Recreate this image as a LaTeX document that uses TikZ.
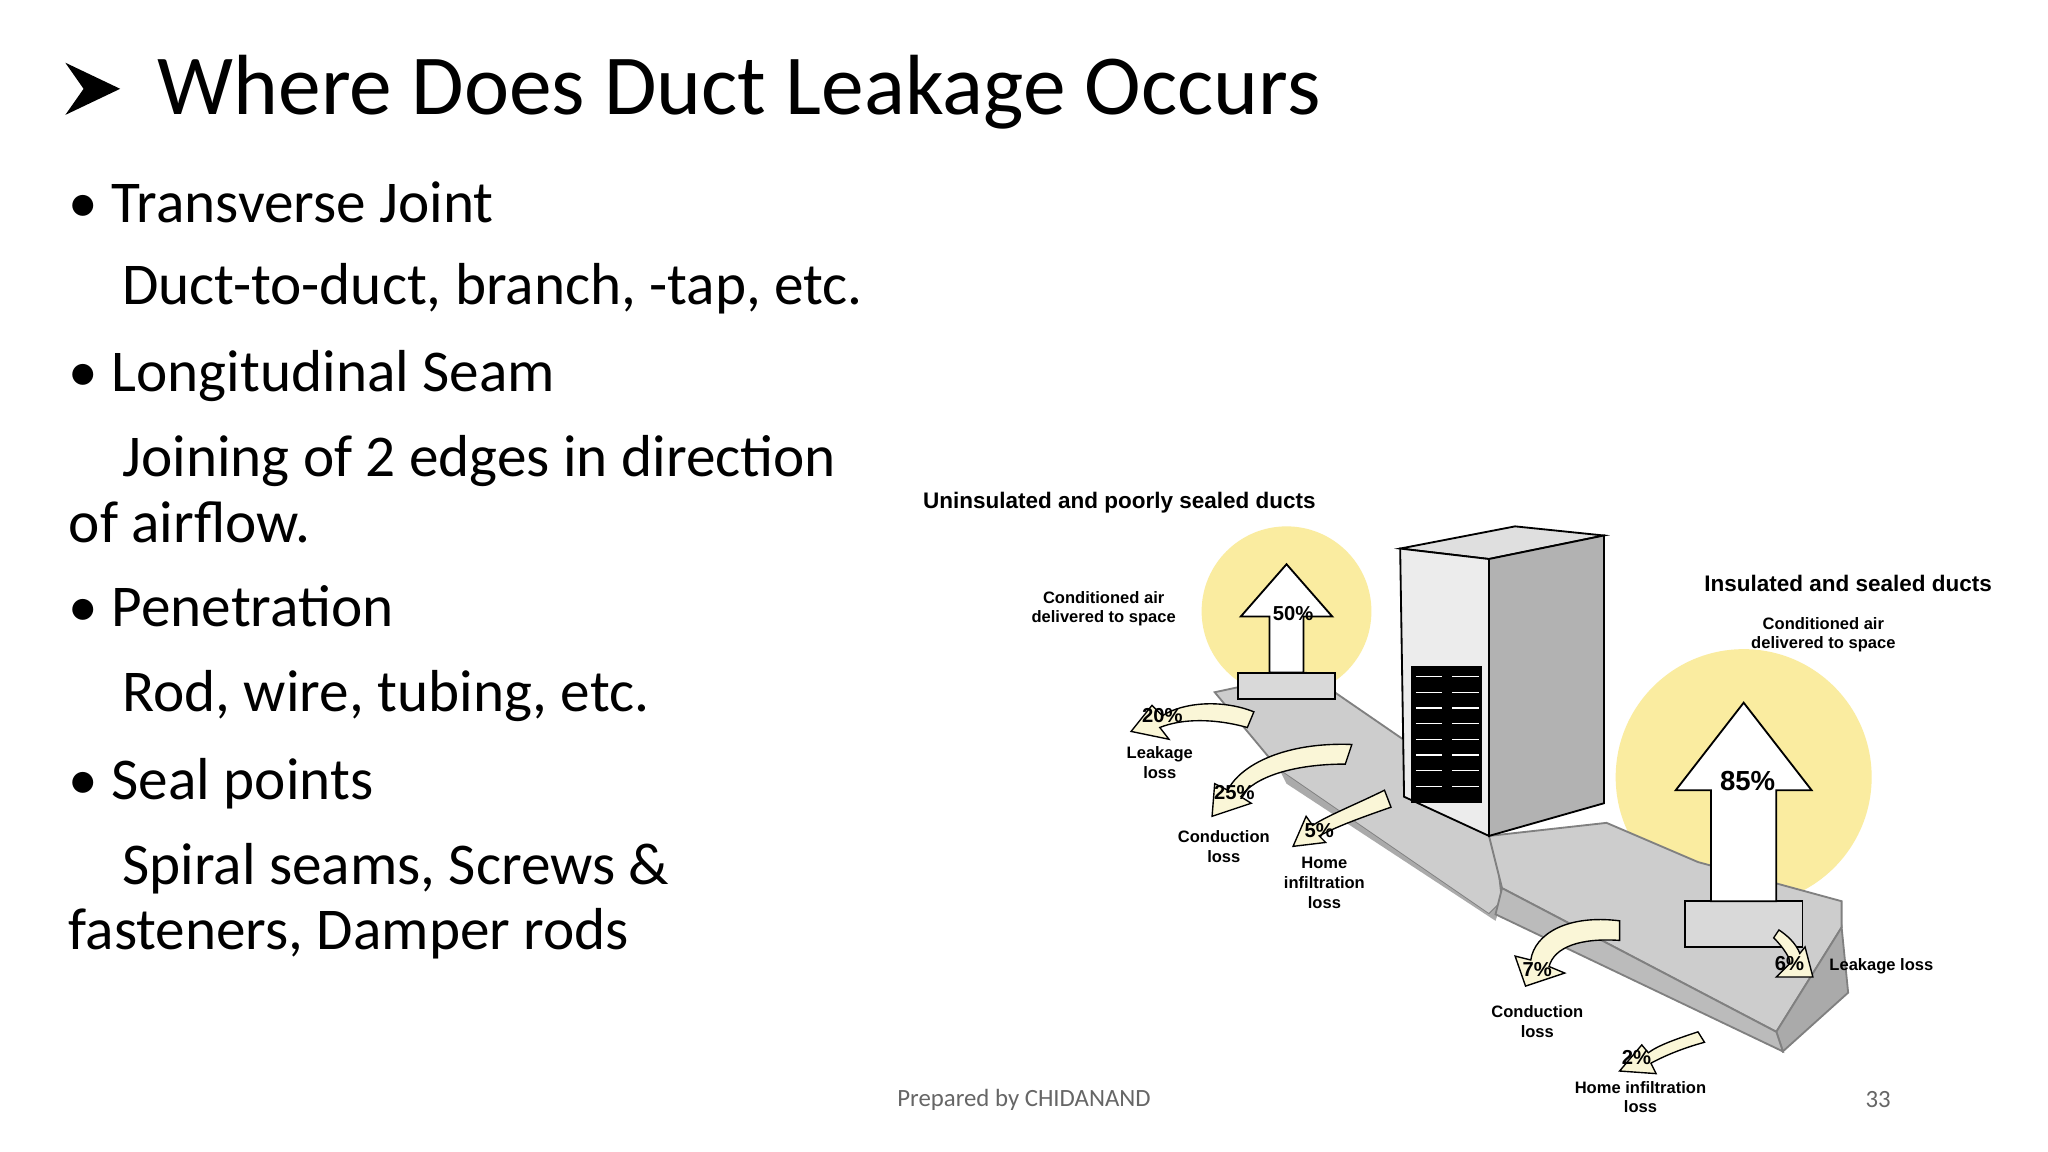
\documentclass[tikz,border=0pt]{standalone}
\usepackage{fontspec}
\setmainfont{Carlito}
\newfontfamily\lab{Liberation Sans}
\usetikzlibrary{arrows.meta}
\definecolor{halo}{RGB}{250,236,160}
\definecolor{pale}{RGB}{250,246,215}
\definecolor{ductA}{RGB}{205,205,205}
\definecolor{ductB}{RGB}{170,170,170}
\tikzset{
 body/.style={anchor=base west,font=\fontsize{12.9}{15}\selectfont,inner sep=0},
 lbl/.style={font=\lab\bfseries\fontsize{3.6}{4.3}\selectfont,align=center,inner sep=0},
 blbl/.style={font=\lab\bfseries\fontsize{4.9}{5}\selectfont,inner sep=0},
 pct/.style={font=\lab\bfseries\fontsize{4.4}{5}\selectfont,inner sep=0},
 loss/.style={draw=black,line width=0.3pt,fill=pale},
 upar/.style={draw=black,line width=0.4pt,fill=white},
}
\begin{document}
\begin{tikzpicture}[x=0.01cm,y=-0.01cm]
\useasboundingbox (0,0) rectangle (1568,882);
\fill[white] (0,0) rectangle (1568,882);
% title
\fill (50,48) -- (92,68) -- (50,88) -- (64,68) -- cycle;
\node[anchor=base west,font=\fontsize{18.6}{21}\selectfont,inner sep=0] (title) at (120,88) {Where Does Duct Leakage Occurs};
% bullets
\node[body] (b1) at (52,170) {\textbullet\ Transverse Joint};
\node[body] (b1a) at (93,233) {Duct-to-duct, branch, -tap, etc.};
\node[body] (b2) at (52,300) {\textbullet\ Longitudinal Seam};
\node[body] (b2a) at (93,365) {Joining of 2 edges in direction};
\node[body] (b2b) at (52,415) {of airflow.};
\node[body] (b3) at (52,480) {\textbullet\ Penetration};
\node[body] (b3a) at (93,545) {Rod, wire, tubing, etc.};
\node[body] (b4) at (52,612) {\textbullet\ Seal points};
\node[body] (b4a) at (93,677) {Spiral seams, Screws \&};
\node[body] (b4b) at (52,727) {fasteners, Damper rods};
% footer
\node[font=\fontsize{5.4}{6}\selectfont,text=gray!80!black] (foot) at (784,842) {Prepared by CHIDANAND};
\node[font=\fontsize{5.4}{6}\selectfont,text=gray!80!black] (pg) at (1438,842) {33};
% diagram
\node[blbl,anchor=west] (t1) at (706,385) {Uninsulated and poorly sealed ducts};
\node[blbl] (t2) at (1415,447) {Insulated and sealed ducts};
% halos
\fill[halo] (985,468) circle (65);
\fill[halo] (1335,595) circle (98);
% left duct
\fill[ductA,draw=gray] (930,530) -- (1000,515) -- (1080,570) -- (1140,600) -- (1150,690) -- (1140,700) -- (980,590) -- cycle;
\fill[ductB] (980,590) -- (1140,700) -- (1150,690) -- (1145,705) -- (985,600) -- cycle;
% right duct
\fill[ductA,draw=gray] (1140,640) -- (1230,630) -- (1300,660) -- (1410,690) -- (1410,710) -- (1360,790) -- (1150,680) -- cycle;
\fill[ductB,draw=gray] (1360,790) -- (1410,710) -- (1415,760) -- (1365,805) -- cycle;
\fill[ductB!80,draw=gray] (1150,680) -- (1360,790) -- (1365,805) -- (1145,700) -- cycle;
% furnace
\fill[gray!25,draw=black,line width=0.4pt] (1072,420) -- (1160,403) -- (1228,410) -- (1140,428) -- cycle;
\fill[gray!15,draw=black,line width=0.4pt] (1072,420) -- (1140,428) -- (1140,640) -- (1075,610) -- cycle;
\fill[gray!60,draw=black,line width=0.4pt] (1140,428) -- (1228,410) -- (1228,615) -- (1140,640) -- cycle;
\fill[black] (1080,510) rectangle (1135,615);
\foreach \yy in {518,530,...,606}{\draw[white,line width=0.3pt] (1084,\yy) -- (1104,\yy) (1112,\yy) -- (1132,\yy);}
% up arrows
\draw[upar,fill=gray!30] (948,515) -- (1022,515) -- (1022,535) -- (948,535) -- cycle;
\draw[upar] (972,515) -- (972,472) -- (950,472) -- (985,432) -- (1020,472) -- (998,472) -- (998,515) -- cycle;
\node[pct] (p50) at (990,470) {50\%};
\draw[upar,fill=gray!30] (1290,690) -- (1380,690) -- (1380,725) -- (1290,725) -- cycle;
\draw[upar] (1310,690) -- (1310,605) -- (1283,605) -- (1335,538) -- (1387,605) -- (1360,605) -- (1360,690) -- cycle;
\node[pct,font=\lab\bfseries\fontsize{6}{7}\selectfont] (p85) at (1338,598) {85\%};
% loss arrows
\draw[loss] (960,545) .. controls (935,535) and (905,538) .. (890,548) -- (882,540) -- (866,560) -- (895,566) -- (888,557) .. controls (905,550) and (930,550) .. (955,557) -- cycle;
\draw[loss] (1035,570) .. controls (985,568) and (950,585) .. (940,605) -- (930,600) -- (928,625) -- (958,615) -- (950,610) .. controls (960,595) and (990,585) .. (1030,585) -- cycle;
\draw[loss] (1060,605) .. controls (1040,615) and (1015,625) .. (1005,632) -- (1000,625) -- (990,648) -- (1015,645) -- (1010,640) .. controls (1025,632) and (1045,625) .. (1065,618) -- cycle;
\draw[loss] (1240,705) .. controls (1200,700) and (1175,715) .. (1172,735) -- (1160,732) -- (1168,755) -- (1198,745) -- (1186,740) .. controls (1190,725) and (1210,718) .. (1240,720) -- cycle;
\draw[loss] (1358,718) .. controls (1365,725) and (1372,735) .. (1370,738) -- (1360,748) -- (1388,748) -- (1382,725) -- (1378,730) .. controls (1375,722) and (1368,716) .. (1362,712) -- cycle;
\draw[loss] (1300,790) .. controls (1285,795) and (1270,800) .. (1262,806) -- (1257,800) -- (1240,820) -- (1268,822) -- (1264,814) .. controls (1275,808) and (1290,802) .. (1305,798) -- cycle;
% loss labels
\node[pct] (p20) at (890,548) {20\%};
\node[pct] (p25) at (945,607) {25\%};
\node[pct] (p5) at (1010,636) {5\%};
\node[pct] (p7) at (1177,742) {7\%};
\node[pct] (p6) at (1370,738) {6\%};
\node[pct] (p2) at (1253,810) {2\%};
\node[lbl] (l1) at (845,466) {Conditioned air\\delivered to space};
\node[lbl] (l2) at (1396,486) {Conditioned air\\delivered to space};
\node[lbl] (l3) at (888,584) {Leakage\\loss};
\node[lbl] (l4) at (937,648) {Conduction\\loss};
\node[lbl] (l5) at (1014,676) {Home\\infiltration\\loss};
\node[lbl] (l6) at (1177,782) {Conduction\\loss};
\node[lbl,anchor=west] (l7) at (1400,740) {Leakage loss};
\node[lbl] (l8) at (1256,840) {Home infiltration\\loss};
\end{tikzpicture}
\end{document}
